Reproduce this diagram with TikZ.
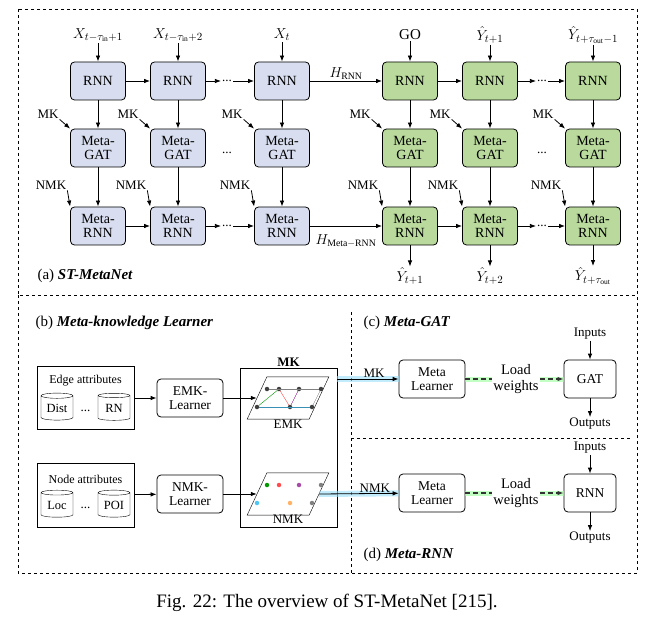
\documentclass[tikz,border=0pt]{standalone}
\usepackage{fontspec}
\setmainfont{Liberation Serif}
\usepackage{amsmath}
\usetikzlibrary{arrows.meta,positioning,shapes.geometric}
\definecolor{encfill}{HTML}{D8DEEF}
\definecolor{decfill}{HTML}{B9DA9C}
\begin{document}
\begin{tikzpicture}[x=1pt,y=-1pt,
  cell/.style={draw, thick, rounded corners=4pt, align=center, minimum width=55pt, minimum height=38pt, inner sep=1pt, font=\fontsize{14}{14}\selectfont},
  enc/.style={cell, fill=encfill},
  dec/.style={cell, fill=decfill},
  box/.style={draw, thick, rounded corners=4pt, align=center, minimum width=66pt, minimum height=38pt, inner sep=1pt, font=\fontsize{13.5}{14}\selectfont},
  lbl/.style={font=\fontsize{13}{13}\selectfont, inner sep=1pt},
  can/.style={draw, cylinder, shape border rotate=90, aspect=0.25, minimum width=32pt, minimum height=27pt, inner sep=0pt, font=\fontsize{12.5}{12}\selectfont},
  arrow/.style={-{Latex[length=6pt]}, thick},
  load/.style={dashed, thick, dash pattern=on 5pt off 3pt, draw=black!80, line width=1.2pt},
  dot/.style={circle, fill, inner sep=0pt, minimum size=4.5pt}
]
\useasboundingbox (0,0) rectangle (650,628);
% panels
\draw[dashed] (18,9) rectangle (637,295);
\draw[dashed] (18,295) -- (18,573) -- (637,573) -- (637,295);
\draw[dashed] (351,312) -- (351,573);
\draw[dashed] (351,438) -- (630,438);

% (a) encoder / decoder grid
\foreach \x/\n/\s in {98/1/enc,178/2/enc,282/3/enc,410/4/dec,490/5/dec,593/6/dec}{
  \node[\s] (rnn\n) at (\x,81) {RNN};
  \node[\s] (gat\n) at (\x,148) {Meta-\\GAT};
  \node[\s] (mrnn\n) at (\x,226) {Meta-\\RNN};
  \node[lbl] (mk\n) at (\x-50,114) {MK};
  \node[lbl] (nmk\n) at (\x-47,185) {NMK};
  \draw[arrow] (rnn\n) -- (gat\n);
  \draw[arrow] (gat\n) -- (mrnn\n);
  \draw[arrow] (mk\n.south east) -- (gat\n.north west);
  \draw[arrow] (nmk\n.south east) -- (mrnn\n.north west);
}
\foreach \n/\t in {1/{$X_{t-\tau_{\text{in}}+1}$},2/{$X_{t-\tau_{\text{in}}+2}$},3/{$X_t$},4/{GO},5/{$\hat{Y}_{t+1}$},6/{$\hat{Y}_{t+\tau_{\text{out}}-1}$}}{
  \node[lbl, font=\fontsize{15}{15}\selectfont] (in\n) at (rnn\n.north |- 0,35) {\t};
  \draw[arrow] (in\n) -- (rnn\n);
}
\foreach \n/\t in {4/{$\hat{Y}_{t+1}$},5/{$\hat{Y}_{t+2}$},6/{$\hat{Y}_{t+\tau_{\text{out}}}$}}{
  \node[lbl, font=\fontsize{15}{15}\selectfont] (out\n) at (mrnn\n.south |- 0,276) {\t};
  \draw[arrow] (mrnn\n) -- (out\n);
}
\node[lbl] (dotr1) at (227,81) {...};
\node[lbl] (dotr2) at (542,81) {...};
\node[lbl] (dotg1) at (227,153) {...};
\node[lbl] (dotg2) at (542,153) {...};
\node[lbl] (dotm1) at (227,226) {...};
\node[lbl] (dotm2) at (542,226) {...};
\foreach \r in {rnn,mrnn}{
  \draw[arrow] (\r1) -- (\r2);
  \draw[arrow] (\r4) -- (\r5);
}
\draw[arrow] (rnn2) -- (dotr1);  \draw[arrow] (dotr1) -- (rnn3);
\draw[arrow] (rnn5) -- (dotr2);  \draw[arrow] (dotr2) -- (rnn6);
\draw[arrow] (mrnn2) -- (dotm1); \draw[arrow] (dotm1) -- (mrnn3);
\draw[arrow] (mrnn5) -- (dotm2); \draw[arrow] (dotm2) -- (mrnn6);
\draw[arrow] (rnn3) -- node[lbl, above, font=\fontsize{14}{14}\selectfont]{$H_{\text{RNN}}$} (rnn4);
\draw[arrow] (mrnn3) -- node[lbl, below=7pt, font=\fontsize{14}{14}\selectfont]{$H_{\text{Meta}-\text{RNN}}$} (mrnn4);
\node[anchor=west, font=\fontsize{15}{15}\selectfont] (tita) at (34,276) {(a) \textbf{\textit{ST-MetaNet}}};

% (b) meta-knowledge learner
\node[anchor=west, font=\fontsize{15}{15}\selectfont] (titb) at (32,323) {(b) \textbf{\textit{Meta-knowledge Learner}}};
\node[draw, thick, minimum width=97pt, minimum height=63pt] (edge) at (85.5,398) {};
\node[lbl, font=\fontsize{12}{12}\selectfont] (edget) at (85.5,381) {Edge attributes};
\node[can] (dist) at (57,408) {Dist};
\node[can] (rn) at (114,408) {RN};
\node[lbl] (edots) at (85.5,411) {...};
\node[draw, thick, minimum width=97pt, minimum height=64pt] (node) at (85.5,495) {};
\node[lbl, font=\fontsize{12}{12}\selectfont] (nodet) at (85.5,479) {Node attributes};
\node[can] (loc) at (57,505) {Loc};
\node[can] (poi) at (114,505) {POI};
\node[lbl] (ndots) at (85.5,508) {...};
\node[box] (emkl) at (190,398) {EMK-\\Learner};
\node[box] (nmkl) at (190,494) {NMK-\\Learner};
\node[draw, thick, minimum width=97pt, minimum height=159pt] (mk) at (288.5,447.5) {};
\node[lbl, font=\bfseries\fontsize{13}{13}\selectfont, above] (mkt) at (mk.north) {MK};
\node[draw, trapezium, trapezium left angle=65, trapezium right angle=115, minimum width=82pt, minimum height=27pt] (emk) at (288,398) {};
\node[draw, trapezium, trapezium left angle=65, trapezium right angle=115, minimum width=82pt, minimum height=27pt] (nmk) at (288,494) {};
\node[lbl] (emkt) at (288,424) {EMK};
\node[lbl] (nmkt) at (288,519) {NMK};
% graph in EMK
\foreach \i/\x/\y in {a/267/389,b/279/389,c/299/389,d/321/389,e/257/407,f/290/407,g/312/407}{
  \node[dot, fill=black!75] (g\i) at (\x,\y) {};
}
\draw[green!60!black] (ge) -- (gb);
\draw[red!70] (gb) -- (gf);
\draw[violet] (gc) -- (gf);
\draw[gray] (ga) -- (gd);
\draw[cyan!70!black] (ge) -- (gg);
\draw[gray] (gd) -- (gg);
\foreach \i/\x/\y/\c in {a/267/485/green!60!black,b/279/485/red!70,c/299/485/violet!70,d/321/485/gray,e/257/503/cyan!70,f/290/503/orange!60,g/312/503/gray}{
  \node[dot, fill=\c] (n\i) at (\x,\y) {};
}
\draw[arrow] (edge) -- (emkl);
\draw[arrow] (emkl) -- (emk);
\draw[arrow] (node) -- (nmkl);
\draw[arrow] (nmkl) -- (nmk);

% (c) meta-GAT and (d) meta-RNN
\node[anchor=west, font=\fontsize{15}{15}\selectfont] (titc) at (360,323) {(c) \textbf{\textit{Meta-GAT}}};
\node[anchor=west, font=\fontsize{15}{15}\selectfont] (titd) at (360,555) {(d) \textbf{\textit{Meta-RNN}}};
\foreach \n/\y/\m in {c/379/GAT,d/493/RNN}{
  \node[box] (ml\n) at (432,\y) {Meta\\Learner};
  \node[lbl, align=center, font=\fontsize{14.5}{16}\selectfont] (lw\n) at (516,\y) {Load\\weights};
  \node[box, minimum width=52pt] (t\n) at (590,\y) {\m};
  \node[lbl] (in\n) at (590,\y-45) {Inputs};
  \node[lbl] (out\n) at (590,\y+45) {Outputs};
  \draw[arrow] (in\n) -- (t\n);
  \draw[arrow] (t\n) -- (out\n);
  \draw[green!40, line width=5pt, opacity=0.6] (ml\n) -- (lw\n);
  \draw[load] (ml\n) -- (lw\n);
  \draw[green!40, line width=5pt, opacity=0.6] (lw\n) -- (t\n);
  \draw[load, -{Latex[length=6pt]}] (lw\n) -- (t\n);
}
\coordinate (mkout) at (mk.east |- mlc);
\draw[cyan!40, line width=6pt, opacity=0.6] (mkout) -- (mlc);
\draw[arrow] (mkout) -- node[lbl, above, pos=0.6]{MK} (mlc);
\draw[cyan!40, line width=6pt, opacity=0.6] (nmk.east) -- (mld);
\draw[arrow] (nmk.east) -- node[lbl, above, pos=0.7]{NMK} (mld);

% caption
\node[font=\fontsize{19}{19}\selectfont] (cap) at (327,603) {Fig. 22: The overview of ST-MetaNet [215].};
\end{tikzpicture}
\end{document}
